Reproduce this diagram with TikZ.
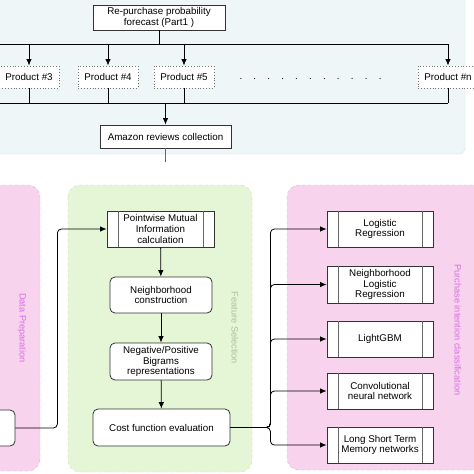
\documentclass[tikz,border=0pt]{standalone}
\usepackage{fontspec}
\setmainfont{Liberation Sans}
\usetikzlibrary{arrows.meta}

\definecolor{topbg}{HTML}{EEF6F7}
\definecolor{topline}{HTML}{D3E3E8}
\definecolor{pinkbg}{HTML}{F8D3EE}
\definecolor{pinkline}{HTML}{E9A9DA}
\definecolor{greenbg}{HTML}{E4F6D5}
\definecolor{greenline}{HTML}{C6E3AE}
\definecolor{labelpink}{HTML}{D86EE2}
\definecolor{labelgreen}{HTML}{A9C0A0}

\begin{document}
\begin{tikzpicture}[x=1pt, y=-1pt,
    font=\fontsize{9.8}{10.7}\selectfont,
    box/.style={draw=black!80, line width=0.8pt, fill=white, align=center, inner sep=1pt},
    roundbox/.style={box, rounded corners=5pt},
    prodbox/.style={draw=black!55, dotted, line width=0.9pt, fill=white, minimum width=60pt, minimum height=22pt, inner sep=1pt},
    arr/.style={-{Latex[length=6.5pt,width=5.5pt]}, line width=0.8pt},
    panellabel/.style={rotate=-90, font=\fontsize{9.2}{10}\selectfont}]
    \useasboundingbox (0,0) rectangle (474,474);
    \fill[white] (0,0) rectangle (474,474);

    \draw[draw=topline, fill=topbg, rounded corners=6pt] (-20,-20) rectangle (465,154);
    \draw[draw=pinkline, dashed, fill=pinkbg, rounded corners=12pt] (-30,185) rectangle (40,471);
    \draw[draw=greenline, dashed, fill=greenbg, rounded corners=12pt] (68,185) rectangle (252,472);
    \draw[draw=pinkline, dashed, fill=pinkbg, rounded corners=12pt] (287,185) rectangle (490,470);

    \node[box, minimum width=132pt, minimum height=25pt] (forecast) at (159,17.5) {Re-purchase probability\\forecast (Part1 )};

    \node[prodbox] (p3) at (29,77) {Product \#3};
    \node[prodbox] (p4) at (108,77) {Product \#4};
    \node[prodbox] (p5) at (184,77) {Product \#5};
    \node[prodbox] (pn) at (448,77) {Product \#n};
    \node (dots) at (310.5,79) {.\hspace{11.2pt}.\hspace{11.2pt}.\hspace{11.2pt}.\hspace{11.2pt}.\hspace{11.2pt}.\hspace{11.2pt}.\hspace{11.2pt}.\hspace{11.2pt}.\hspace{11.2pt}.\hspace{11.2pt}.};

    \node[box, minimum width=131pt, minimum height=23pt] (amazon) at (165.5,136.5) {Amazon reviews collection};

    \coordinate (busL) at (0,44);
    \coordinate (busR) at (448,44);
    \coordinate (lowL) at (0,103);
    \coordinate (lowR) at (448,103);
    \coordinate (out) at (165.5,162);

    \draw[line width=0.8pt] (busL) -- (busR);
    \draw[line width=0.8pt] (forecast.south) -- (forecast.south |- busL);
    \foreach \p in {p3,p4,p5,pn} {
        \draw[arr] (\p.north |- busL) -- (\p.north);
        \draw[line width=0.8pt] (\p.south) -- (\p.south |- lowL);
    }
    \draw[line width=0.8pt] (lowL) -- (lowR);
    \draw[arr] (amazon.north |- lowL) -- (amazon.north);
    \draw[black!60, line width=0.6pt] (amazon.south) -- (out);

    \node[labelpink, panellabel] (dataprep) at (22,328) {Data Preparation};
    \node[labelgreen, panellabel] (featsel) at (235,328) {Feature Selection};
    \node[labelpink, panellabel] (purchase) at (458,330) {Purchase intention classification};

    \node[roundbox, minimum width=70pt, minimum height=36pt] (prep) at (-20,428) {};

    \node[box, minimum width=107pt, minimum height=36pt] (pmi) at (160.5,229) {Pointwise Mutual\\Information\\calculation};
    \node[roundbox, minimum width=102pt, minimum height=36pt] (neigh) at (161,295) {Neighborhood\\construction};
    \node[roundbox, minimum width=102pt, minimum height=37pt] (bigram) at (161,361.5) {Negative/Positive\\Bigrams\\representations};
    \node[roundbox, minimum width=137pt, minimum height=37pt] (cost) at (161.5,427.5) {Cost function evaluation};

    \node[box, minimum width=106pt, minimum height=36pt] (lr) at (380,229) {Logistic\\Regression};
    \node[box, minimum width=106pt, minimum height=37pt] (nlr) at (380,284.5) {Neighborhood\\Logistic\\Regression};
    \node[box, minimum width=106pt, minimum height=36pt] (lgbm) at (380,339) {LightGBM};
    \node[box, minimum width=106pt, minimum height=36pt] (cnn) at (380,391) {Convolutional\\neural network};
    \node[box, minimum width=106pt, minimum height=36pt] (lstm) at (380,445) {Long Short Term\\Memory networks};

    \foreach \c in {pmi,lr,nlr,lgbm,cnn,lstm} {
        \draw[black!60, line width=0.6pt] ([xshift=11.5pt]\c.north west) -- ([xshift=11.5pt]\c.south west);
        \draw[black!60, line width=0.6pt] ([xshift=-11pt]\c.north east) -- ([xshift=-11pt]\c.south east);
    }

    \draw[arr, rounded corners=4pt] (prep.east) -- ++(42,0) |- (pmi.west);
    \draw[arr] (pmi) -- (neigh);
    \draw[arr] (neigh) -- (bigram);
    \draw[arr] (bigram) -- (cost);
    \foreach \c in {lr,nlr,lgbm,cnn,lstm} {
        \draw[arr, rounded corners=4pt] (cost.east) -- ++(40,0) |- (\c.west);
    }
\end{tikzpicture}
\end{document}
